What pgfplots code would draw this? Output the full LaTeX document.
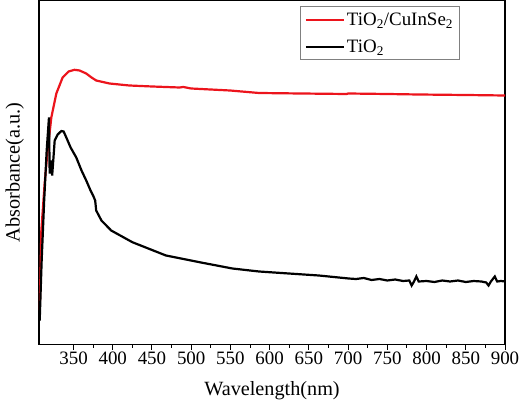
\documentclass[border=0pt]{standalone}
\usepackage{fontspec}
\setmainfont{Liberation Serif}
\usepackage{pgfplots}
\pgfplotsset{compat=1.18}
\definecolor{myred}{RGB}{236,20,28}
\begin{document}
\begin{tikzpicture}
\useasboundingbox (-39bp,-62.5bp) rectangle (481bp,344.5bp);
\begin{axis}[
  at={(0,0)}, anchor=south west,
  scale only axis, width=466bp, height=344bp,
  xmin=306, xmax=900, ymin=0, ymax=344,
  xtick={350,400,...,900}, minor x tick num=1,
  ytick=\empty,
  xtick pos=bottom, tick align=outside,
  major tick length=5bp, minor tick length=3bp,
  axis line style={line width=1.2bp},
  every tick/.style={line width=1bp, black},
  /pgf/number format/assume math mode=true,
  tick label style={font=\fontsize{19}{22}\selectfont},
  xticklabel style={yshift=1bp},
  xlabel={Wavelength(nm)}, ylabel={Absorbance(a.u.)},
  label style={font=\fontsize{20.3}{22}\selectfont},
  xlabel style={at={(axis description cs:0.5,-0.134)}, anchor=center},
  ylabel style={at={(axis description cs:-0.052,0.5)}, anchor=center},
  legend style={at={(axis description cs:0.561,0.983)}, anchor=north west,
    draw=gray, line width=0.6bp, font=\fontsize{19}{21}\selectfont,
    inner sep=4bp, row sep=9bp},
  legend cell align=left,
  legend image code/.code={\draw[#1] (0bp,0bp) -- (38bp,0bp);},
]
\addplot[myred, line width=2.2bp] coordinates {
(306.9,34) (309,114) (313.2,161) (317,194) (321.7,227) (328.1,251) (336.1,267)
(343.7,273) (351.3,274.7) (357.7,274) (366.2,271) (373,267) (378.9,264)
(395.8,261) (421.2,259) (450.4,258) (485,257) (490,257.5) (499.9,256) (549.5,254)
(586.5,251.5) (640,251) (698,250.5) (700,251) (750,250.5) (789.5,250) (850,249.5) (900,249)
};
\addlegendentry{TiO\textsubscript{2}/CuInSe\textsubscript{2}}
\addplot[black, line width=2.2bp] coordinates {
(306.9,24) (309.4,84) (312.6,144) (315.8,194) (318.7,227) (319.6,171) (321.5,184)
(322.8,169) (326,204) (329.8,210) (334.5,213.5) (337.4,213) (340.8,207)
(346.3,197) (353.5,187) (360.2,174) (366.2,164) (371.7,154) (375.5,148)
(377.6,144) (378.9,134) (385.6,124) (398,114) (425,102.3) (467.8,89)
(510.5,82.3) (552.5,76) (586.5,73) (662.7,69) (700.8,66)
(710,65.5) (720,66.5) (730,64.5) (740,65.5) (750,64) (760,65) (770,63.5)
(778,64) (781,59) (784,63) (787,68) (790,63) (800,63.5) (810,62.5) (820,64)
(830,63) (840,64) (850,62.5) (860,63.5) (870,63) (876,62) (879,59) (882,63)
(887,68) (890,63) (895,63.5) (900,63)
};
\addlegendentry{TiO\textsubscript{2}}
\end{axis}
\end{tikzpicture}
\end{document}
